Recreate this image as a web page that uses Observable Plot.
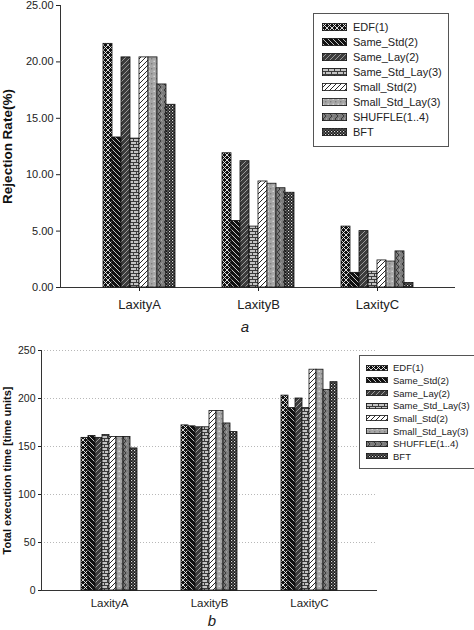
<!DOCTYPE html>
<html>
<head>
<meta charset="utf-8">
<script src="https://cdn.jsdelivr.net/npm/d3@7"></script>
<script src="https://cdn.jsdelivr.net/npm/@observablehq/plot@0.6"></script>
<style>
  body { margin: 0; background: #fff; font-family: Arial, "Liberation Sans", sans-serif; }
  #wrap { position: relative; width: 474px; height: 630px; overflow: hidden; background: #fff; }
  .layer { position: absolute; left: 0; }
  .legend { position: absolute; box-sizing: border-box; border: 1px solid #555; background: #fff; color: #222; }
  .legend .row { display: flex; align-items: center; white-space: nowrap; }
  .legend svg { display: block; flex: none; }
  .cap { position: absolute; font-style: italic; color: #222; transform: translate(-50%, -50%); line-height: 1; }
</style>
</head>
<body>
<svg width="0" height="0" style="position:absolute">
  <defs>
    <pattern id="p0" patternUnits="userSpaceOnUse" width="5" height="5">
      <rect width="5" height="5" fill="#111"/>
      <path d="M0,0L5,5M5,0L0,5" stroke="#eee" stroke-width="0.9"/>
    </pattern>
    <pattern id="p1" patternUnits="userSpaceOnUse" width="5" height="5">
      <rect width="5" height="5" fill="#111"/>
      <path d="M0,0L5,5M-1,4L1,6M4,-1L6,1" stroke="#eee" stroke-width="0.8"/>
    </pattern>
    <pattern id="p2" patternUnits="userSpaceOnUse" width="5" height="5">
      <rect width="5" height="5" fill="#3c3c3c"/>
      <path d="M0,5L5,0M-1,1L1,-1M4,6L6,4" stroke="#9a9a9a" stroke-width="1"/>
    </pattern>
    <pattern id="p3" patternUnits="userSpaceOnUse" width="6" height="6">
      <rect width="6" height="6" fill="#c4c4c4"/>
      <path d="M0,0.5H6M0,3.5H6M0.5,0.5V3.5M3.5,3.5V6.5" stroke="#3c3c3c" stroke-width="1"/>
    </pattern>
    <pattern id="p4" patternUnits="userSpaceOnUse" width="5" height="5">
      <rect width="5" height="5" fill="#fff"/>
      <path d="M0,5L5,0M-1,1L1,-1M4,6L6,4" stroke="#111" stroke-width="0.9"/>
    </pattern>
    <pattern id="p5" patternUnits="userSpaceOnUse" width="5" height="5">
      <rect width="5" height="5" fill="#a6a6a6"/>
      <circle cx="1.2" cy="1.2" r="0.8" fill="#dcdcdc"/>
      <circle cx="3.7" cy="3.7" r="0.8" fill="#777"/>
    </pattern>
    <pattern id="p6" patternUnits="userSpaceOnUse" width="6" height="6">
      <rect width="6" height="6" fill="#7c7c7c"/>
      <path d="M1,0L4,3L1,6" fill="none" stroke="#3a3a3a" stroke-width="1"/>
      <path d="M4,0L5.5,1.5M4,6L5.5,4.5" fill="none" stroke="#aaa" stroke-width="0.8"/>
    </pattern>
    <pattern id="p7" patternUnits="userSpaceOnUse" width="3" height="3">
      <rect width="3" height="3" fill="#1a1a1a"/>
      <rect x="0" y="0" width="1.2" height="1.2" fill="#ddd"/>
      <rect x="1.5" y="1.5" width="1.2" height="1.2" fill="#999"/>
    </pattern>
  </defs>
</svg>
<div id="wrap"></div>
<script>
// ---------- data ----------
const categories = ["LaxityA", "LaxityB", "LaxityC"];
const series = ["EDF(1)", "Same_Std(2)", "Same_Lay(2)", "Same_Std_Lay(3)", "Small_Std(2)", "Small_Std_Lay(3)", "SHUFFLE(1..4)", "BFT"];
const legendLabels = ["EDF(1)", "Same_Std(2)", "Same_Lay(2)", "Same_Std_Lay(3)", "Small_Std(2)", "Small_Std_Lay(3)", "SHUFFLE(1..4)", "BFT"];

const rejectionA = [21.6, 13.3, 20.4, 13.2, 20.4, 20.4, 18.0, 16.2];
const rejectionB = [11.9, 5.9, 11.2, 5.4, 9.4, 9.2, 8.8, 8.4];
const rejectionC = [5.4, 1.3, 5.0, 1.4, 2.4, 2.3, 3.2, 0.4];

const timeA = [159, 161, 159, 162, 160, 160, 160, 148];
const timeB = [172, 171, 170, 170, 187, 187, 174, 165];
const timeC = [203, 190, 200, 190, 230, 230, 209, 217];

const yTicksRejection = [0, 5, 10, 15, 20, 25];
const yTicksTime = [0, 50, 100, 150, 200, 250];

const patterns = ["url(#p0)", "url(#p1)", "url(#p2)", "url(#p3)", "url(#p4)", "url(#p5)", "url(#p6)", "url(#p7)"];

// ---------- tables ----------
function table(arrays) {
  return categories.flatMap((c, ci) => series.map((s, si) => ({category: c, series: s, value: arrays[ci][si]})));
}
const rejectionData = table([rejectionA, rejectionB, rejectionC]);
const timeData = table([timeA, timeB, timeC]);

const font = "Arial, 'Liberation Sans', sans-serif";
const wrap = document.getElementById("wrap");

function addLayer(node, top) {
  node.classList.add("layer");
  node.style.top = top + "px";
  wrap.appendChild(node);
}

function chart(cfg) {
  const dims = {
    width: 474, height: cfg.height,
    marginTop: cfg.mt, marginBottom: cfg.mb, marginLeft: cfg.ml, marginRight: cfg.mr
  };
  const axes = Plot.plot({
    ...dims,
    style: {background: "transparent", fontFamily: font, color: "#222"},
    x: {domain: [0, 1], axis: null},
    y: {domain: cfg.yDomain, axis: null},
    marks: [
      cfg.grid ? Plot.ruleY(cfg.ticks.filter(d => d > 0), {stroke: "#b8b8b8", strokeDasharray: "1,2"}) : null,
      Plot.axisY(cfg.ticks, {anchor: "left", tickSize: cfg.tickSize, tickPadding: 3, fontSize: cfg.yFont, tickFormat: cfg.fmt, label: null}),
      Plot.ruleX([0], {stroke: "#333"}),
      Plot.ruleY([0], {stroke: "#333"}),
      Plot.text([cfg.ylabel], {frameAnchor: "left", textAnchor: "middle", rotate: -90, dx: 7 - cfg.ml, fontWeight: "bold", fontSize: cfg.ylabelFont, fill: "#111"})
    ]
  });
  const bars = Plot.plot({
    ...dims,
    style: {background: "transparent", fontFamily: font, color: "#222"},
    fx: {domain: categories, paddingInner: cfg.pi, paddingOuter: cfg.po, label: null},
    x: {domain: series, padding: 0, axis: null},
    y: {domain: cfg.yDomain, axis: null},
    color: {type: "ordinal", domain: series, range: patterns},
    marks: [
      Plot.barY(cfg.data, {fx: "category", x: "series", y: "value", fill: "series", stroke: "#111", strokeWidth: 0.8}),
      Plot.axisFx({anchor: "bottom", tickSize: cfg.fxTick, tickPadding: cfg.fxPad, fontSize: cfg.fxFont, label: null})
    ]
  });
  addLayer(axes, cfg.top);
  addLayer(bars, cfg.top);
}

chart({
  top: 0, height: 320, mt: 5, mb: 33, ml: 60, mr: 19,
  yDomain: [0, 25], ticks: yTicksRejection, fmt: d3.format(".2f"),
  tickSize: 4, yFont: 11, grid: false,
  ylabel: "Rejection Rate(%)", ylabelFont: 13.5,
  pi: 0.397, po: 0.35, data: rejectionData,
  fxTick: 4, fxPad: 8, fxFont: 13
});

chart({
  top: 330, height: 290, mt: 20, mb: 30, ml: 41, mr: 97,
  yDomain: [0, 250], ticks: yTicksTime, fmt: d3.format("d"),
  tickSize: 3, yFont: 10.5, grid: true,
  ylabel: "Total execution time [time units]", ylabelFont: 11,
  pi: 0.40, po: 0.365, data: timeData,
  fxTick: 0, fxPad: 8, fxFont: 11.5
});

// ---------- legends ----------
function legend(cfg) {
  const div = d3.select(wrap).append("div").attr("class", "legend")
    .style("left", cfg.left + "px").style("top", cfg.top + "px")
    .style("width", cfg.w + "px").style("height", cfg.h + "px")
    .style("padding", `${cfg.pt}px 0 0 ${cfg.pl}px`)
    .style("font-size", cfg.font + "px");
  const rows = div.selectAll(".row").data(series).join("div").attr("class", "row").style("height", cfg.rowH + "px");
  const svg = rows.append("svg").attr("width", cfg.sw).attr("height", cfg.sh).style("margin-right", cfg.gap + "px");
  svg.append("rect").attr("x", 0.4).attr("y", 0.4).attr("width", cfg.sw - 0.8).attr("height", cfg.sh - 0.8)
    .attr("fill", (d, i) => patterns[i]).attr("stroke", "#111").attr("stroke-width", 0.8);
  rows.append("span").text((d, i) => legendLabels[i]);
}
legend({left: 313, top: 13, w: 136, h: 134, pt: 5.5, pl: 8, font: 11, rowH: 15, sw: 25, sh: 8, gap: 6});
legend({left: 359, top: 355, w: 118, h: 114, pt: 5.3, pl: 6, font: 9.5, rowH: 12.7, sw: 22, sh: 6, gap: 5});

// ---------- captions ----------
d3.select(wrap).append("div").attr("class", "cap").style("left", "245px").style("top", "326px").style("font-size", "15px").text("a");
d3.select(wrap).append("div").attr("class", "cap").style("left", "212px").style("top", "620px").style("font-size", "15px").text("b");
</script>
</body>
</html>
